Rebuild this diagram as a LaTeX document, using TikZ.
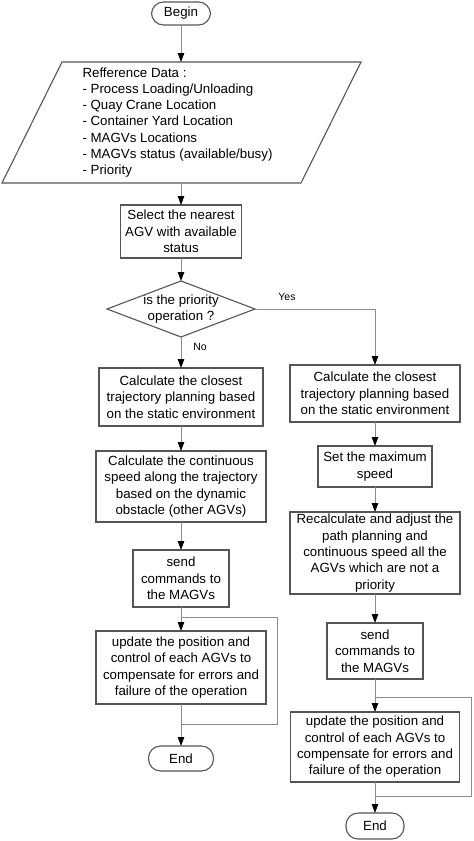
\documentclass[tikz,border=0pt]{standalone}
\usepackage{fontspec}
\setmainfont{Liberation Sans}
\usetikzlibrary{arrows.meta,calc}
\definecolor{boxgray}{HTML}{555555}
\definecolor{conngray}{HTML}{8C8C8C}
\begin{document}
\begin{tikzpicture}[x=1pt,y=-1pt,
  every node/.style={font=\fontsize{13.3}{16.3}\selectfont, inner sep=0pt, outer sep=0pt, text=black},
  boxline/.style={draw=boxgray, line width=1.1pt},
  box/.style={boxline, align=center},
  term/.style={boxline, rounded corners=12pt, align=center},
  conn/.style={draw=conngray, line width=0.9pt, -{Triangle[length=9pt,width=6.5pt,color=black]}},
  fb/.style={draw=conngray, line width=0.9pt},
  lab/.style={font=\fontsize{10.5}{12}\selectfont}
]
\useasboundingbox (0,0) rectangle (474,841);

% left column
\node[term, minimum width=59, minimum height=23] (begin) at (181,13.5) {Begin};
\node[minimum width=231, minimum height=121, align=left] (data) at (177.5,122.5)
  {Refference Data :\\- Process Loading/Unloading\\- Quay Crane Location\\- Container Yard Location\\- MAGVs Locations\\- MAGVs status (available/busy)\\- Priority};
\draw[boxline] (data.north west) -- ++(299,0) -- ++(-60,121) -- ++(-299,0) -- cycle;
\node[box, minimum width=121, minimum height=53] (sel) at (181,231.5) {Select the nearest\\AGV with available\\status};
\node[minimum width=148, minimum height=56, align=center] (dec) at (181,309) {is the priority\\operation ?};
\draw[boxline] (dec.north) -- (dec.east) -- (dec.south) -- (dec.west) -- cycle;
\node[box, minimum width=164, minimum height=58] (L1) at (181,397) {Calculate the closest\\trajectory planning based\\on the static environment};
\node[box, minimum width=170, minimum height=71] (L2) at (181,486.5) {Calculate the continuous\\speed along the trajectory\\based on the dynamic\\obstacle (other AGVs)};
\node[box, minimum width=96, minimum height=57] (L3) at (181,578.5) {send\\commands to\\the MAGVs};
\node[box, minimum width=170, minimum height=73] (L4) at (181,667.5) {update the position and\\control of each AGVs to\\compensate for errors and\\failure of the operation};
\node[term, minimum width=65, minimum height=25] (Lend) at (181,758.5) {End};

% right column
\node[box, minimum width=170, minimum height=57] (R1) at (375,393.5) {Calculate the closest\\trajectory planning based\\on the static environment};
\node[box, minimum width=114, minimum height=41] (R2) at (375,466.5) {Set the maximum\\speed};
\node[box, minimum width=170, minimum height=82] (R3) at (375,553) {Recalculate and adjust the\\path planning and\\continuous speed all the\\AGVs which are not a\\priority};
\node[box, minimum width=96, minimum height=56] (R4) at (375,651) {send\\commands to\\the MAGVs};
\node[box, minimum width=169, minimum height=70] (R5) at (375,747) {update the position and\\control of each AGVs to\\compensate for errors and\\failure of the operation};
\node[term, minimum width=58, minimum height=26] (Rend) at (375,826) {End};

% labels
\node[lab] (yes) at (287,297) {Yes};
\node[lab] (no) at (200,347) {No};

% connectors
\draw[conn] (begin.south) -- (begin.south |- data.north);
\draw[conn] (sel.north |- data.south) -- (sel.north);
\draw[conn] (sel.south) -- (dec.north);
\draw[conn] (dec.south) -- (L1.north);
\draw[conn] (dec.east) -| (R1.north);
\draw[conn] (L1.south) -- (L2.north);
\draw[conn] (L2.south) -- (L3.north);
\draw[conn] (L3.south) -- (L4.north);
\draw[conn] (L4.south) -- (Lend.north);
\draw[conn] (R1.south) -- (R2.north);
\draw[conn] (R2.south) -- (R3.north);
\draw[conn] (R3.south) -- (R4.north);
\draw[conn] (R4.south) -- (R5.north);
\draw[conn] (R5.south) -- (Rend.north);

% feedback loops
\coordinate (Lout) at ($(L4.south)+(0,20)$);
\coordinate (Lin) at ($(L4.north)+(0,-14)$);
\draw[fb] (Lout) -- ++(96,0) |- (Lin);
\coordinate (Rout) at ($(R5.south)+(0,14)$);
\coordinate (Rin) at ($(R5.north)+(0,-15)$);
\draw[fb] (Rout) -- ++(96,0) |- (Rin);
\end{tikzpicture}
\end{document}
